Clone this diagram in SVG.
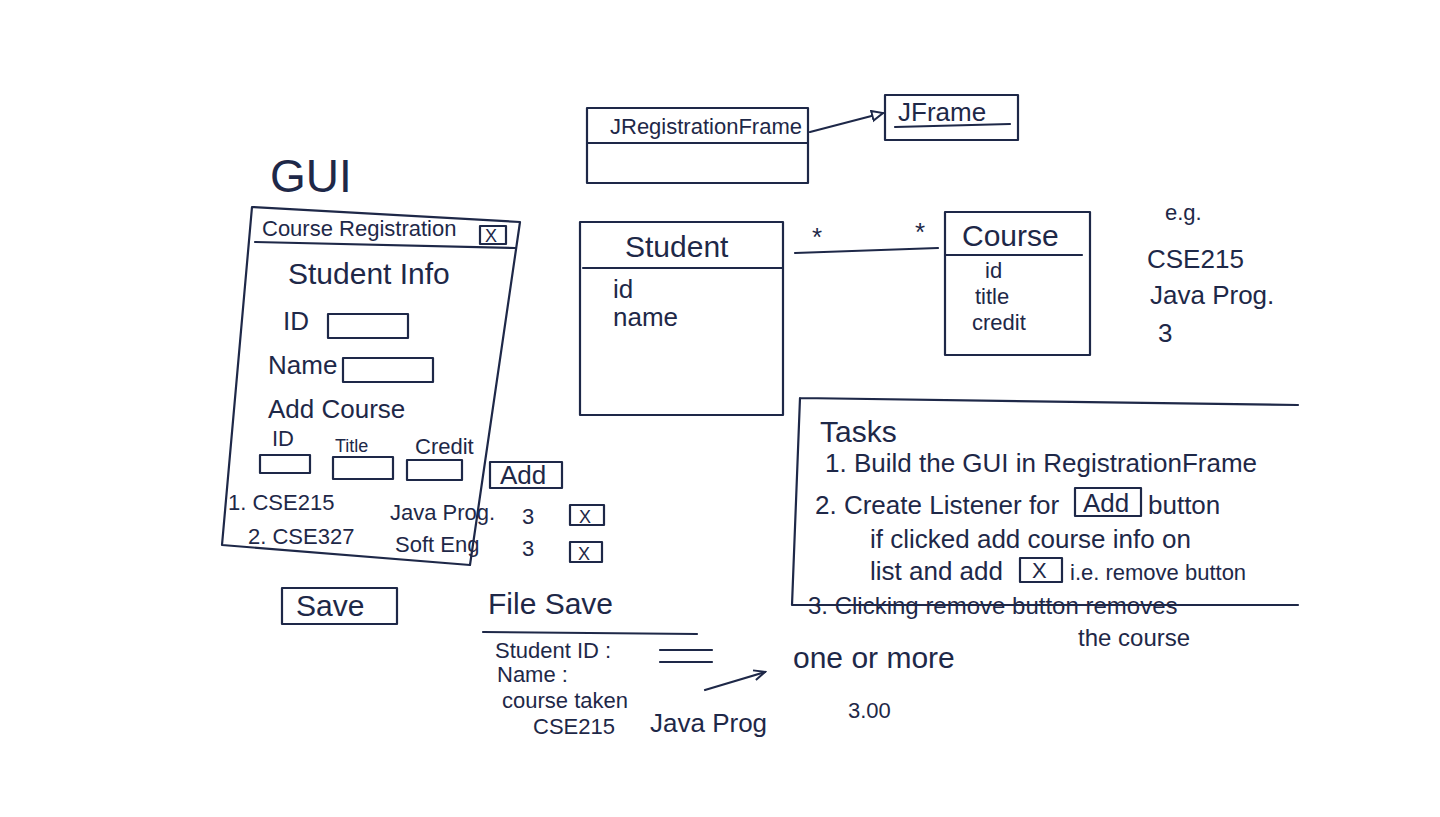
<svg xmlns="http://www.w3.org/2000/svg" width="1440" height="817" viewBox="0 0 1440 817">
<style>
text{font-family:"Liberation Sans",Arial,sans-serif;fill:#1e2848}
.s{fill:none;stroke:#1e2848;stroke-width:2.2;stroke-linecap:round;stroke-linejoin:round}
.t22{font-size:22px}.t24{font-size:24px}.t26{font-size:26px}.t30{font-size:30px}.t18{font-size:18px}
</style>
<defs><marker id="tri" markerWidth="14" markerHeight="14" refX="12" refY="6" orient="auto" markerUnits="userSpaceOnUse"><path d="M1,1 L12,6 L1,11 Z" fill="#fff" stroke="#1e2848" stroke-width="2"/></marker>
<marker id="arr" markerWidth="14" markerHeight="14" refX="12" refY="6" orient="auto" markerUnits="userSpaceOnUse"><path d="M1,1 L12,6 L1,11" fill="none" stroke="#1e2848" stroke-width="2"/></marker></defs>
<rect width="1440" height="817" fill="#fff"/>
<text x="270" y="192" font-size="46">GUI</text>
<g id="window">
<path class="s" d="M252,207 L520,222 L470,565 L222,545 Z M255,242 L515,248"/>
<text x="262" y="236" class="t22">Course Registration</text>
<rect class="s" x="480" y="226" width="26" height="18"/><text x="485" y="242" class="t18">X</text>
<text x="288" y="284" class="t30">Student Info</text>
<text x="283" y="330" class="t26">ID</text><rect class="s" x="328" y="314" width="80" height="24"/>
<text x="268" y="374" class="t26">Name</text><rect class="s" x="343" y="358" width="90" height="24"/>
<text x="268" y="418" class="t26">Add Course</text>
<text x="272" y="446" class="t22">ID</text><text x="335" y="452" class="t18">Title</text><text x="415" y="454" class="t22">Credit</text>
<rect class="s" x="260" y="455" width="50" height="18"/><rect class="s" x="333" y="457" width="60" height="22"/><rect class="s" x="407" y="460" width="55" height="20"/>
<text x="228" y="510" class="t22">1. CSE215</text><text x="390" y="520" class="t22">Java Prog.</text>
<text x="248" y="544" class="t22">2. CSE327</text><text x="395" y="552" class="t22">Soft Eng</text>
</g>
<g id="addbtn"><rect class="s" x="490" y="462" width="72" height="26"/><text x="500" y="484" class="t26">Add</text></g>
<g id="rows"><text x="522" y="524" class="t22">3</text><rect class="s" x="570" y="505" width="34" height="20"/><text x="579" y="523" class="t18">X</text>
<text x="522" y="556" class="t22">3</text><rect class="s" x="570" y="542" width="32" height="20"/><text x="578" y="560" class="t18">X</text></g>
<g id="save"><rect class="s" x="282" y="588" width="115" height="36"/><text x="296" y="616" class="t30">Save</text></g>
<g id="filesave">
<text x="488" y="614" class="t30">File   Save</text>
<path class="s" d="M483,632 L697,634"/>
<text x="495" y="658" class="t22">Student ID :</text><path class="s" d="M660,650 L712,650 M660,662 L712,662"/>
<text x="497" y="682" class="t22">Name       :</text>
<text x="502" y="708" class="t22">course taken</text>
<text x="533" y="734" class="t22">CSE215</text><text x="650" y="732" class="t26">Java Prog</text><text x="848" y="718" class="t22">3.00</text>
<text x="793" y="668" class="t30">one or more</text>
</g>
<g id="jreg"><rect class="s" x="587" y="108" width="221" height="75"/><path class="s" d="M587,143 L808,143"/><text x="610" y="134" class="t22">JRegistrationFrame</text></g>
<g id="jframe"><rect class="s" x="885" y="95" width="133" height="45"/><path class="s" d="M895,127 L1010,124"/><text x="898" y="121" class="t26">JFrame</text></g>
<g id="student"><rect class="s" x="580" y="222" width="203" height="193"/><path class="s" d="M583,268 L783,268"/>
<text x="625" y="257" class="t30">Student</text><text x="613" y="298" class="t26">id</text><text x="613" y="326" class="t26">name</text></g>
<g id="course"><rect class="s" x="945" y="212" width="145" height="143"/><path class="s" d="M945,255 L1082,255"/>
<text x="962" y="246" class="t30">Course</text><text x="985" y="278" class="t22">id</text><text x="975" y="304" class="t22">title</text><text x="972" y="330" class="t22">credit</text></g>
<g id="eg"><text x="1165" y="220" class="t22">e.g.</text><text x="1147" y="268" class="t26">CSE215</text><text x="1150" y="304" class="t26">Java Prog.</text><text x="1158" y="342" class="t26">3</text></g>
<g id="tasks"><path class="s" d="M800,398 L1298,405 M800,398 L792,605 L1298,605"/>
<text x="820" y="442" class="t30">Tasks</text>
<text x="825" y="472" class="t26">1. Build the GUI in RegistrationFrame</text>
<text x="815" y="514" class="t26">2. Create Listener for</text><rect class="s" x="1075" y="488" width="66" height="28"/><text x="1083" y="512" class="t26">Add</text><text x="1148" y="514" class="t26">button</text>
<text x="870" y="548" class="t26">if clicked add course info on</text>
<text x="870" y="580" class="t26">list and add</text><rect class="s" x="1020" y="558" width="42" height="24"/><text x="1032" y="578" class="t22">X</text><text x="1070" y="580" class="t22">i.e. remove button</text>
<text x="808" y="614" class="t24">3. Clicking remove button removes</text>
<text x="1078" y="646" class="t24">the course</text></g>
<g id="connectors">
<path class="s" d="M810,132 L883,113" marker-end="url(#tri)"/>
<path class="s" d="M795,253 L938,248"/>
<path class="s" d="M705,690 L765,672" marker-end="url(#arr)"/>
<text x="812" y="246" class="t26">*</text><text x="915" y="241" class="t26">*</text>
</g>
</svg>
